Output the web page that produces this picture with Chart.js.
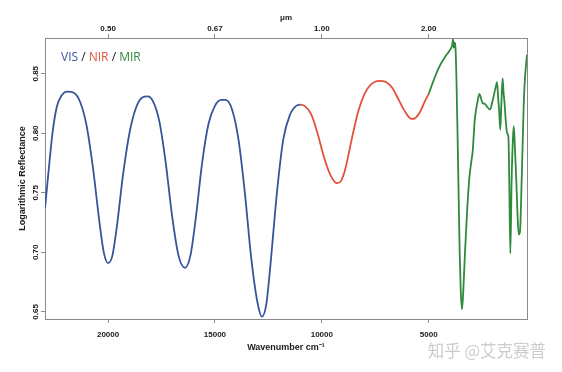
<!DOCTYPE html>
<html>
<head>
<meta charset="utf-8">
<script src="https://cdn.jsdelivr.net/npm/chart.js@4.4.1/dist/chart.umd.min.js"></script>
<style>
  body { margin: 0; background: #fff; }
  #wrap { width: 562px; height: 372px; }
</style>
</head>
<body>
<div id="wrap"><canvas id="spectrumChart" width="562" height="372"></canvas></div>
<script>
// wavenumber (cm-1) / log reflectance
const visWavenumber = [22950, 22800, 22600, 22400, 22200, 21900, 21600, 21300, 21000, 20700, 20400, 20200, 20000, 19800, 19600, 19300, 19000, 18700, 18400, 18150, 17900, 17600, 17300, 17000, 16700, 16400, 16150, 15900, 15600, 15300, 15000, 14700, 14500, 14200, 13900, 13600, 13300, 13000, 12800, 12600, 12400, 12100, 11800, 11500, 11200, 11000];
const visReflectance = [0.737, 0.765, 0.800, 0.822, 0.831, 0.835, 0.834, 0.826, 0.806, 0.770, 0.725, 0.700, 0.691, 0.697, 0.720, 0.765, 0.800, 0.821, 0.830, 0.831, 0.827, 0.810, 0.775, 0.730, 0.697, 0.687, 0.697, 0.728, 0.775, 0.808, 0.823, 0.828, 0.828, 0.820, 0.795, 0.750, 0.695, 0.657, 0.646, 0.656, 0.690, 0.750, 0.795, 0.815, 0.823, 0.824];

const nirWavenumber = [11000, 10800, 10500, 10200, 9900, 9600, 9300, 9100, 8900, 8600, 8300, 8000, 7700, 7300, 7000, 6700, 6400, 6100, 5800, 5650, 5400, 5200, 5000];
const nirReflectance = [0.824, 0.823, 0.816, 0.800, 0.780, 0.765, 0.758, 0.760, 0.770, 0.795, 0.818, 0.833, 0.841, 0.844, 0.843, 0.838, 0.828, 0.818, 0.812, 0.8125, 0.818, 0.826, 0.833];

const mirWavenumber = [5000, 4800, 4500, 4200, 4000, 3900, 3860, 3830, 3790, 3740, 3700, 3650, 3600, 3550, 3500, 3440, 3380, 3300, 3200, 3100, 3000, 2940, 2850, 2780, 2700, 2630, 2560, 2470, 2400, 2300, 2130, 2000, 1850, 1800, 1760, 1700, 1650, 1600, 1540, 1500, 1450, 1400, 1330, 1270, 1230, 1180, 1120, 1060, 1020, 970, 900, 850, 790, 730, 650, 560, 500, 400];
const mirReflectance = [0.833, 0.843, 0.856, 0.865, 0.870, 0.874, 0.879, 0.872, 0.876, 0.870, 0.845, 0.800, 0.750, 0.700, 0.668, 0.652, 0.668, 0.700, 0.735, 0.762, 0.777, 0.785, 0.810, 0.820, 0.828, 0.833, 0.830, 0.825, 0.825, 0.823, 0.820, 0.828, 0.840, 0.843, 0.832, 0.818, 0.803, 0.825, 0.846, 0.835, 0.825, 0.812, 0.800, 0.797, 0.760, 0.699, 0.760, 0.795, 0.806, 0.790, 0.760, 0.735, 0.715, 0.717, 0.760, 0.820, 0.845, 0.866];

const bottomTicks = [20000, 15000, 10000, 5000];
const topTickLabels = ["0.50", "0.67", "1.00", "2.00"];
const yTicks = [0.65, 0.70, 0.75, 0.80, 0.85];

const blue = "#35559a";
const red = "#e4513b";
const green = "#2f8a3c";
const axisGray = "#8a8a8a";
const textDark = "#1a1a1a";

function toPoints(xs, ys) {
  return xs.map((x, i) => ({ x: x, y: ys[i] }));
}

function lineSet(label, xs, ys, color) {
  return {
    label: label,
    data: toPoints(xs, ys),
    borderColor: color,
    borderWidth: 1.8,
    pointRadius: 0,
    fill: false,
    cubicInterpolationMode: "monotone",
  };
}

// rotated y labels, legend text and watermark
const extrasPlugin = {
  id: "extras",
  afterDraw(chart) {
    const ctx = chart.ctx;
    const y = chart.scales.y;
    const area = chart.chartArea;

    ctx.save();
    ctx.fillStyle = textDark;
    ctx.font = "bold 8px Arial, 'Liberation Sans'";
    ctx.textAlign = "center";
    ctx.textBaseline = "middle";
    yTicks.forEach((v) => {
      ctx.save();
      ctx.translate(area.left - 9, y.getPixelForValue(v));
      ctx.rotate(-Math.PI / 2);
      ctx.fillText(v.toFixed(2), 0, 0);
      ctx.restore();
    });

    ctx.save();
    ctx.font = "bold 9px Arial, 'Liberation Sans'";
    ctx.translate(area.left - 22, (area.top + area.bottom) / 2);
    ctx.rotate(-Math.PI / 2);
    ctx.fillText("Logarithmic Reflectance", 0, 0);
    ctx.restore();

    // VIS / NIR / MIR
    ctx.font = "12px 'Open Sans', 'Noto Sans', sans-serif";
    ctx.textAlign = "left";
    let x = area.left + 16;
    const ty = area.top + 20;
    const parts = [["VIS", blue], [" / ", textDark], ["NIR", red], [" / ", textDark], ["MIR", green]];
    parts.forEach(([t, c]) => {
      ctx.fillStyle = c;
      ctx.fillText(t, x, ty);
      x += ctx.measureText(t).width;
    });

    // watermark
    ctx.font = "16.5px 'Noto Sans CJK SC'";
    ctx.fillStyle = "rgba(195,195,195,0.85)";
    ctx.textAlign = "right";
    ctx.fillText("知乎 @艾克赛普", 546, 351);
    ctx.restore();
  },
};

function crearGrafico() {
  const ctx = document.getElementById("spectrumChart").getContext("2d");

  new Chart(ctx, {
    type: "line",
    data: {
      datasets: [
        lineSet("VIS", visWavenumber, visReflectance, blue),
        lineSet("NIR", nirWavenumber, nirReflectance, red),
        lineSet("MIR", mirWavenumber, mirReflectance, green),
      ],
    },
    options: {
      responsive: false,
      animation: false,
      devicePixelRatio: 1,
      layout: { padding: { left: 0, right: 35, top: 13, bottom: 19 } },
      plugins: {
        legend: { display: false },
        tooltip: { enabled: false },
      },
      scales: {
        x: {
          type: "linear",
          position: "bottom",
          reverse: true,
          min: 400,
          max: 22950,
          afterBuildTicks: (s) => { s.ticks = bottomTicks.map((v) => ({ value: v })); },
          afterFit: (s) => { s.height = 34; },
          ticks: {
            callback: (v) => String(v),
            color: textDark,
            font: { family: "Arial", size: 8, weight: "bold" },
            padding: 7,
            maxRotation: 0,
          },
          grid: { drawOnChartArea: false, tickLength: 4, color: axisGray },
          border: { color: axisGray, width: 1 },
          title: {
            display: true,
            text: "Wavenumber cm\u207B\u00B9",
            color: textDark,
            font: { family: "Arial", size: 9, weight: "bold" },
            padding: { top: 1, bottom: 0 },
          },
        },
        x2: {
          type: "linear",
          position: "top",
          reverse: true,
          min: 400,
          max: 22950,
          afterBuildTicks: (s) => { s.ticks = bottomTicks.map((v) => ({ value: v })); },
          afterFit: (s) => { s.height = 25; },
          ticks: {
            callback: (v) => topTickLabels[bottomTicks.indexOf(v)],
            color: textDark,
            font: { family: "Arial", size: 8, weight: "bold" },
            padding: 0,
            maxRotation: 0,
          },
          grid: { drawOnChartArea: false, tickLength: 4, color: axisGray },
          border: { color: axisGray, width: 1 },
          title: {
            display: true,
            text: "\u03BCm",
            color: textDark,
            font: { family: "Arial", size: 8, weight: "bold" },
            padding: { top: 0, bottom: 1 },
          },
        },
        y: {
          type: "linear",
          position: "left",
          min: 0.644,
          max: 0.88,
          afterBuildTicks: (s) => { s.ticks = yTicks.map((v) => ({ value: v })); },
          afterFit: (s) => { s.width = 45; },
          ticks: { callback: () => "", padding: 0 },
          grid: { drawOnChartArea: false, tickLength: 4, color: axisGray },
          border: { color: axisGray, width: 1 },
        },
        y2: {
          type: "linear",
          position: "right",
          min: 0.644,
          max: 0.88,
          afterFit: (s) => { s.width = 0; },
          ticks: { display: false },
          grid: { display: false },
          border: { color: axisGray, width: 1 },
        },
      },
    },
    plugins: [extrasPlugin],
  });
}

document.addEventListener("DOMContentLoaded", crearGrafico);
</script>
</body>
</html>
